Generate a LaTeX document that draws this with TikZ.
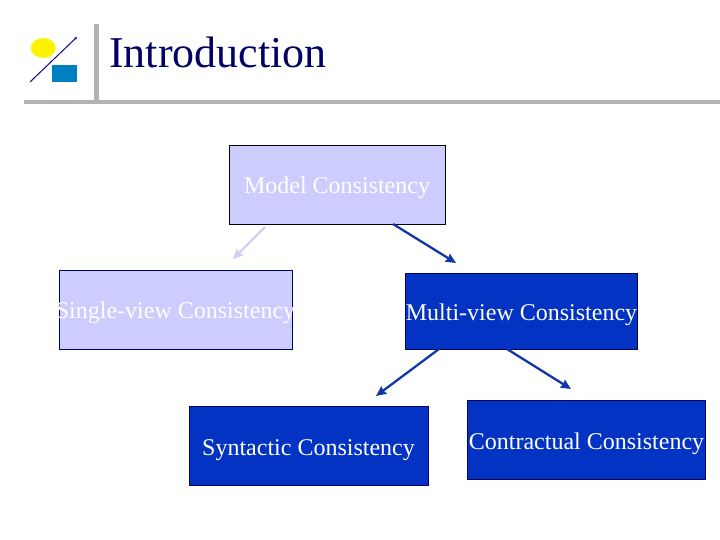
\documentclass[tikz,border=0pt]{standalone}
\usepackage{fontspec}
\setmainfont{Liberation Serif}
\usetikzlibrary{arrows.meta}
\definecolor{lightbox}{RGB}{204,204,255}
\definecolor{darkbox}{RGB}{3,51,195}
\definecolor{navyline}{RGB}{0,0,102}
\definecolor{logoline}{RGB}{10,10,140}
\definecolor{arrowblue}{RGB}{18,56,168}
\definecolor{arrowlight}{RGB}{208,208,240}
\definecolor{rulegray}{RGB}{178,178,178}
\definecolor{logoblue}{RGB}{0,128,192}
\tikzset{
  lightnode/.style={draw=black,line width=0.9pt,fill=lightbox,anchor=north west,inner sep=0pt,outer sep=0pt},
  darknode/.style={draw=navyline,line width=0.9pt,fill=darkbox,anchor=north west,inner sep=0pt,outer sep=0pt},
  boxlabel/.style={anchor=base,inner sep=0pt,text=white,font=\fontsize{24}{28}\selectfont},
  conn/.style={line width=2.3pt,draw=arrowblue,-{Stealth[length=10pt,width=9pt,inset=1pt]}},
  connlight/.style={conn,draw=arrowlight},
  rulebar/.style={fill=rulegray,draw=none}
}
\begin{document}
\begin{tikzpicture}[x=1pt,y=-1pt]
\useasboundingbox (0,0) rectangle (720,540);
\fill[white] (0,0) rectangle (720,540);
% header
\path[rulebar] (94,24) rectangle (99,101);
\path[rulebar] (24,100) rectangle (720,104);
\fill[yellow] (43.3,48) ellipse (12.5pt and 10pt);
\fill[logoblue] (52,65) rectangle (77,82);
\draw[logoline,line width=1pt,-{Stealth[length=3pt,width=3pt]}] (30,82) -- (77,37);
\node[anchor=base west,inner sep=0pt,text=navyline,font=\fontsize{44}{50}\selectfont] (title) at (109,68) {Introduction};
% boxes
\node[lightnode,minimum width=216.5pt,minimum height=78.7pt] (model) at (229.3,145.3) {};
\node[lightnode,draw=navyline,minimum width=233.5pt,minimum height=79pt] (single) at (59.3,270.3) {};
\node[darknode,minimum width=232pt,minimum height=76pt] (multi) at (405.3,273.3) {};
\node[darknode,minimum width=239pt,minimum height=79pt] (syn) at (189.3,406.3) {};
\node[darknode,minimum width=238pt,minimum height=79pt] (con) at (467.3,400.3) {};
% labels
\node[boxlabel] (lmodel) at (337,194) {Model Consistency};
\node[boxlabel] (lsingle) at (175.5,318) {Single-view Consistency};
\node[boxlabel] (lmulti) at (521.5,320) {Multi-view Consistency};
\node[boxlabel] (lsyn) at (308.5,455) {Syntactic Consistency};
\node[boxlabel] (lcon) at (586.5,449) {Contractual Consistency};
% connector ends
\coordinate (m1) at (265,227);
\coordinate (e1) at (233,259);
\coordinate (m2) at (393,224);
\coordinate (e2) at (456,263);
\coordinate (m3) at (439,349);
\coordinate (e3) at (376,396);
\coordinate (m4) at (507,349);
\coordinate (e4) at (571,389);
\draw[connlight] (m1) -- (e1);
\draw[conn] (m2) -- (e2);
\draw[conn] (m3) -- (e3);
\draw[conn] (m4) -- (e4);
\end{tikzpicture}
\end{document}
